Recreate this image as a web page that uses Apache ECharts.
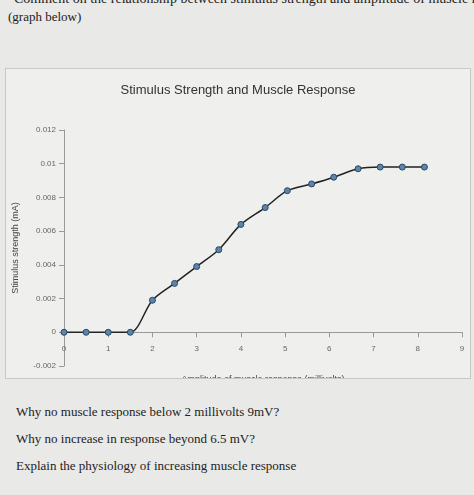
<!DOCTYPE html>
<html><head><meta charset="utf-8">
<script src="https://cdn.jsdelivr.net/npm/echarts@6/dist/echarts.min.js"></script>
<style>
body{margin:0;width:474px;height:495px;background:#e9e9e7;font-family:"Liberation Serif",serif;color:#222;position:relative;overflow:hidden}
.t{position:absolute;left:8px;font-size:13px;white-space:nowrap}
#c{position:absolute;left:5px;top:68px;width:466px;height:311px;background:#efefed;border:1px solid #c8c8c6;box-sizing:border-box}
</style></head><body>
<div class="t" style="top:-9px;left:14px;font-size:14px">Comment on the relationship between stimulus strength and amplitude of muscle response</div>
<div class="t" style="top:9px;">(graph below)</div>
<div id="c"></div>
<div class="t" style="top:404px;left:16px">Why no muscle response below 2 millivolts 9mV?</div>
<div class="t" style="top:431px;left:16px">Why no increase in response beyond 6.5 mV?</div>
<div class="t" style="top:458px;left:16px">Explain the physiology of increasing muscle response</div>
<script>
const amplitude=[0,0.5,1,1.5,2,2.5,3,3.5,4,4.55,5.05,5.6,6.1,6.65,7.15,7.65,8.15];
const stimulus=[0,0,0,0,0.0019,0.0029,0.0039,0.0049,0.0064,0.0074,0.0084,0.0088,0.0092,0.0097,0.0098,0.0098,0.0098];
const chart=echarts.init(document.getElementById('c'));
const lab={color:'#666',fontSize:8,fontFamily:'Liberation Sans'};
chart.setOption({
 title:{text:'Stimulus Strength and Muscle Response',left:'center',top:10,textStyle:{fontSize:13,fontWeight:'normal',color:'#333',fontFamily:'Liberation Sans'}},
 grid:{left:58,right:8,top:61,bottom:12,outerBoundsMode:'none',containLabel:false},
 xAxis:{type:'value',min:0,max:9,interval:1,axisLine:{onZero:true,lineStyle:{color:'#999'}},axisTick:{show:true},splitLine:{show:false},
   axisLabel:{...lab,margin:-21},name:'Amplitude of muscle response (millivolts)',nameLocation:'middle',nameGap:9,nameTextStyle:{fontSize:9,color:'#444',fontFamily:'Liberation Sans'}},
 yAxis:{type:'value',min:-0.002,max:0.012,interval:0.002,axisLine:{show:true,lineStyle:{color:'#999'}},axisTick:{show:true},splitLine:{show:false},
   axisLabel:{...lab,formatter:v=>v===0?'0':String(+v.toFixed(3))},name:'Stimulus strength (mA)',nameLocation:'middle',nameGap:44,nameTextStyle:{fontSize:9,color:'#444',fontFamily:'Liberation Sans'}},
 series:[{type:'line',smooth:0.3,data:amplitude.map((x,i)=>[x,stimulus[i]]),symbol:'circle',symbolSize:6,
   lineStyle:{color:'#222',width:1.5},itemStyle:{color:'#5a86ad',borderColor:'#2a4560',borderWidth:1}}]
});
</script></body></html>
